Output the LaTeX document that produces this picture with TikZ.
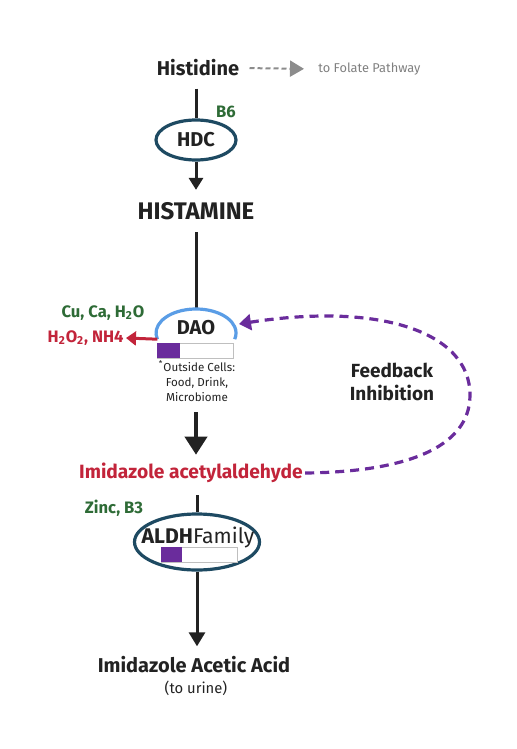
\documentclass[tikz,border=0pt]{standalone}
\usepackage{fontspec}
\setmainfont{Fira Sans}
\usetikzlibrary{calc,arrows.meta,shapes.geometric}
\definecolor{navy}{HTML}{1E4A62}
\definecolor{leaf}{HTML}{2E6B36}
\definecolor{crimson}{HTML}{C2243A}
\definecolor{grape}{HTML}{6A2C9C}
\definecolor{sky}{HTML}{5A9DE6}
\definecolor{ink}{HTML}{222222}

\tikzset{
  metab/.style={font=\bfseries\fontsize{10}{12}\selectfont, text=ink, inner sep=1pt},
  cofac/.style={font=\bfseries\fontsize{8.3}{10}\selectfont, text=leaf, inner sep=1pt},
  enzyme/.style={ellipse, draw=navy, line width=1.6pt, inner sep=0pt},
  flow/.style={draw=ink, line width=1.5pt},
  bar/.style={draw=black!25, line width=.4pt, fill=white, minimum width=38pt, minimum height=7.5pt, inner sep=0pt}
}

\begin{document}
\begin{tikzpicture}[x=0.5pt,y=-0.5pt]
\useasboundingbox (0,0) rectangle (517,749);

\node[metab] (his) at (198,68) {Histidine};
\node[anchor=west, text=black!50, font=\fontsize{6.4}{8}\selectfont, inner sep=1pt] (fol) at (316,69) {to Folate Pathway};
\draw[draw=black!45, line width=1pt, dash pattern=on 2.5pt off 1.5pt, -{Triangle[length=7pt,width=8pt,fill=black!45]}, shorten <=4pt, shorten >=6pt] (his.east) -- (fol.west);

\node[enzyme, minimum width=40pt, minimum height=20pt] (hdc) at (196,140) {};
\node[metab] at (hdc) {HDC};
\node[cofac] at (226,112) {B6};
\draw[flow, shorten <=5pt] (his.south -| hdc) -- (hdc);

\node[metab, font=\bfseries\fontsize{12}{14}\selectfont] (hist) at (196,211) {HISTAMINE};
\draw[flow, -{Triangle[length=6pt,width=7pt]}, shorten >=5pt] (hdc) -- (hist);

% DAO half ellipse and bar
\coordinate (daotop) at (196,309);
\coordinate (daoleft) at (157.4,339.2);
\coordinate (daoright) at (239,324);
\draw[flow, shorten <=5pt] (hist) -- (daotop);
\draw[draw=sky, line width=1.6pt] (daoleft) arc[start angle=195, end angle=-15, x radius=20pt, y radius=12pt];
\node[metab] (dao) at (196,328) {DAO};
\node[bar] (daobar) at (195,351) {};
\fill[grape] (daobar.north west) rectangle ++(23,15);

\node[cofac] (cu) at (103,313) {Cu, Ca, H\textsubscript{2}O};
\node[cofac, text=crimson, anchor=east] (prod) at (126,338) {H\textsubscript{2}O\textsubscript{2}, NH4};
\draw[draw=crimson, line width=1.5pt, -{Triangle[length=5pt,width=7pt]}] (daoleft) -- (prod.east);

\node[align=center, font=\fontsize{5.8}{7.6}\selectfont, text=ink, inner sep=1pt] (note) at (197,381) {\textsuperscript{*}Outside Cells:\\Food, Drink,\\Microbiome};

\node[metab, text=crimson, font=\bfseries\fontsize{9.6}{11}\selectfont] (ald) at (191,473) {Imidazole acetylaldehyde};
\draw[draw=ink, line width=2pt, -{Triangle[length=9pt,width=11pt]}, shorten <=4pt, shorten >=3pt] (note.south -| daotop) -- (ald.north -| daotop);

% feedback loop
\draw[draw=grape, line width=1.6pt, dash pattern=on 4.5pt off 3pt, -{Triangle[length=6pt,width=8pt]}]
  (ald.east) .. controls (400,472) and (470,450) .. (470,395) .. controls (470,332) and (380,302) .. (daoright);
\node[metab, align=center, font=\bfseries\fontsize{9.5}{11.5}\selectfont] (fb) at (392,382) {Feedback\\Inhibition};

\node[enzyme, minimum width=62.5pt, minimum height=28pt] (aldh) at (197,542) {};
\node[metab, font=\fontsize{10.6}{12}\selectfont] (aldht) at (198,537) {\textbf{ALDH}Family};
\node[bar] (aldhbar) at (199,555) {};
\fill[grape] (aldhbar.north west) rectangle ++(21,15);
\node[cofac] (zinc) at (114,508) {Zinc, B3};
\draw[flow, shorten <=5pt] (ald.south -| aldh) -- (aldh);

\node[metab] (iaa) at (194,665) {Imidazole Acetic Acid};
\node[font=\fontsize{7.4}{9}\selectfont, text=ink] (urine) at (196,688) {(to urine)};
\draw[flow, -{Triangle[length=7pt,width=8pt]}, shorten >=4pt] (aldh) -- (iaa.north -| aldh);

\end{tikzpicture}
\end{document}
